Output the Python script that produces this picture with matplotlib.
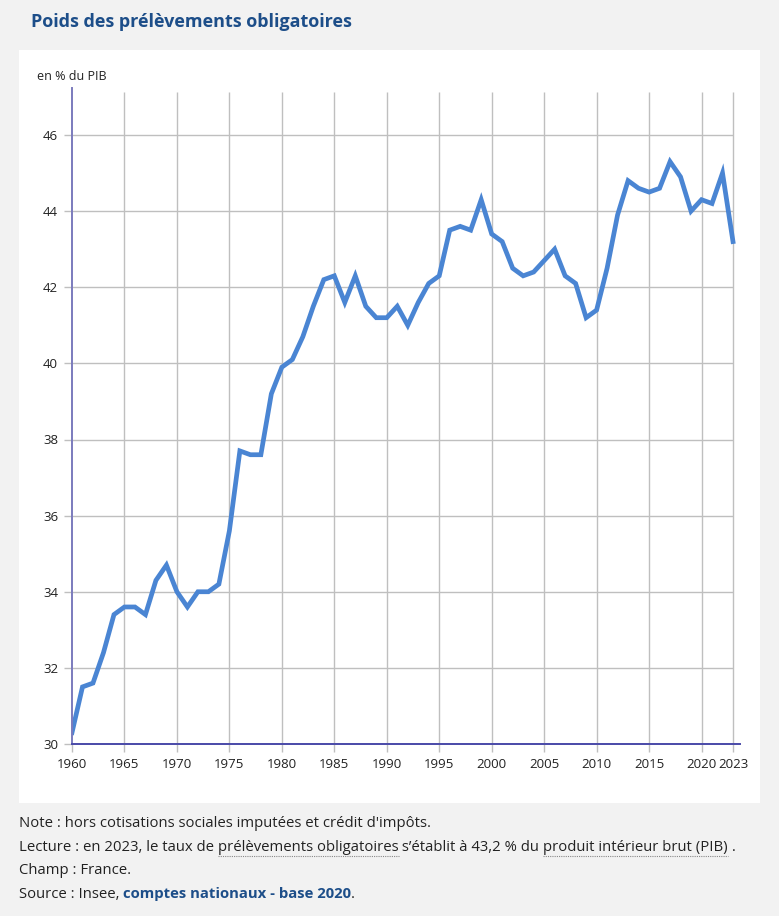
"""
Poids des prélèvements obligatoires (France, 1960-2023)
Line chart recreated with matplotlib.
"""

import matplotlib.pyplot as plt
from matplotlib.patches import Rectangle

plt.rcParams['font.family'] = ['Open Sans', 'DejaVu Sans']

years = list(range(1960, 2024))
taux = [30.3, 31.5, 31.6, 32.4, 33.4, 33.6, 33.6, 33.4, 34.3, 34.7,
        34.0, 33.6, 34.0, 34.0, 34.2, 35.6, 37.7, 37.6, 37.6, 39.2,
        39.9, 40.1, 40.7, 41.5, 42.2, 42.3, 41.6, 42.3, 41.5, 41.2,
        41.2, 41.5, 41.0, 41.6, 42.1, 42.3, 43.5, 43.6, 43.5, 44.3,
        43.4, 43.2, 42.5, 42.3, 42.4, 42.7, 43.0, 42.3, 42.1, 41.2,
        41.4, 42.5, 43.9, 44.8, 44.6, 44.5, 44.6, 45.3, 44.9, 44.0,
        44.3, 44.2, 45.0, 43.2]
x_ticks = [1960, 1965, 1970, 1975, 1980, 1985, 1990, 1995, 2000,
           2005, 2010, 2015, 2020, 2023]
y_ticks = [30, 32, 34, 36, 38, 40, 42, 44, 46]

W, H = 779, 916
BG = '#f2f2f2'
TITLE_BLUE = '#1d4e89'
LINE_BLUE = '#4a85d3'
AXIS_BLUE = '#4a4aa8'
GRID = '#bfbfbf'
TEXT = '#222222'


def fx(px):
    return px / W


def fy(py):
    return 1 - py / H


fig = plt.figure(figsize=(W / 100, H / 100), dpi=100, facecolor=BG)

# white panel behind the chart
panel = Rectangle((fx(19), fy(803)), fx(760) - fx(19), fy(50) - fy(803),
                  transform=fig.transFigure, facecolor='white',
                  edgecolor='none', zorder=-10)
fig.add_artist(panel)

fig.text(fx(31), fy(22), 'Poids des prélèvements obligatoires', fontsize=13,
         fontweight='bold', color=TITLE_BLUE, va='center', ha='left')

left, right, top, bottom = 72, 740, 88, 744
ax = fig.add_axes([fx(left), fy(bottom), fx(right) - fx(left), fy(top) - fy(bottom)])
ax.set_zorder(1)
ax.set_facecolor('white')

x_per_px = (2023 - 1960) / (733 - 72)
y_per_px = (46 - 30) / (744 - 135)
ax.set_xlim(1960, 1960 + (right - left) * x_per_px)
ax.set_ylim(30, 30 + (bottom - top) * y_per_px)

# grid
ax.hlines(y_ticks[1:], 1960, 2023, color=GRID, linewidth=1, zorder=1)
ax.vlines(x_ticks[1:], 30, 30 + (bottom - 92) * y_per_px, color=GRID, linewidth=1, zorder=1)

ax.plot(years, taux, color=LINE_BLUE, linewidth=3.4, solid_joinstyle='miter', zorder=3)

for s in ['top', 'right']:
    ax.spines[s].set_visible(False)
ax.spines['left'].set_color('#7b7bbd')
ax.spines['left'].set_linewidth(1.4)
ax.spines['bottom'].set_color(AXIS_BLUE)
ax.spines['bottom'].set_linewidth(1.4)
ax.spines['left'].set_zorder(4)
ax.spines['bottom'].set_zorder(4)

ax.set_xticks(x_ticks)
ax.set_xticklabels([str(v) for v in x_ticks])
ax.set_yticks(y_ticks)
ax.set_yticklabels([str(v) for v in y_ticks])
ax.tick_params(axis='both', length=6, width=1, color=GRID, labelsize=9.5,
               labelcolor=TEXT, pad=4)

fig.text(fx(37), fy(76), 'en % du PIB', fontsize=9, color=TEXT, va='center', ha='left')

# footnotes, built piece by piece so that linked words can be styled
renderer = fig.canvas.get_renderer()
FOOT_SIZE = 10.75


def write_line(y_px, pieces):
    x = fx(19)
    for txt, weight, color, underline in pieces:
        t = fig.text(x, fy(y_px), txt, fontsize=FOOT_SIZE, fontweight=weight,
                     color=color, va='baseline', ha='left')
        bb = t.get_window_extent(renderer=renderer)
        x0, x1 = bb.x0 / fig.bbox.width, bb.x1 / fig.bbox.width
        if underline:
            yu = fy(y_px + 5)
            fig.add_artist(plt.Line2D([x0, x1], [yu, yu], transform=fig.transFigure,
                                      color='#888888', linewidth=0.8,
                                      linestyle=(0, (1, 1))))
        x = x1


write_line(827, [('Note : hors cotisations sociales imputées et crédit d\'impôts.',
                  'normal', TEXT, False)])
write_line(851, [('Lecture : en 2023, le taux de ', 'normal', TEXT, False),
                 ('prélèvements obligatoires', 'normal', TEXT, True),
                 (' s\u2019établit à 43,2 % du ', 'normal', TEXT, False),
                 ('produit intérieur brut (PIB)', 'normal', TEXT, True),
                 (' .', 'normal', TEXT, False)])
write_line(874, [('Champ : France.', 'normal', TEXT, False)])
write_line(898, [('Source : Insee, ', 'normal', TEXT, False),
                 ('comptes nationaux - base 2020', 'bold', TITLE_BLUE, False),
                 ('.', 'normal', TEXT, False)])

fig.savefig('out.png', dpi=100, facecolor=BG)
